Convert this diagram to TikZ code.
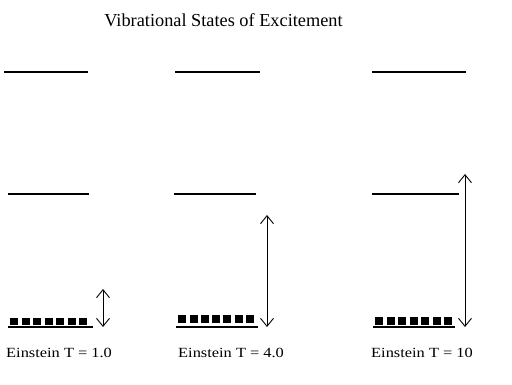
\documentclass[tikz,border=0pt]{standalone}
\usepackage{fontspec}
\setmainfont{Liberation Serif}
\usetikzlibrary{arrows.meta}
\begin{document}
\begin{tikzpicture}[x=1pt,y=-1pt,
  level/.style={line width=1.1pt},
  quantum/.style={fill=black,draw=none,minimum width=8pt,minimum height=7.5pt,inner sep=0pt,anchor=north west},
  gap/.style={line width=0.9pt,{Straight Barb[length=8pt,width=13pt]}-{Straight Barb[length=8pt,width=13pt]}},
  lbl/.style={font=\fontsize{14pt}{16pt}\selectfont,anchor=base west,inner sep=0pt,xscale=1.17},
  ttl/.style={font=\fontsize{18.3pt}{20pt}\selectfont,anchor=base,inner sep=0pt}]
\useasboundingbox (0,0) rectangle (512,384);
\node[ttl] (title) at (223.5,26) {Vibrational States of Excitement};
% column 1
\coordinate (a1) at (4,72);  \coordinate (a2) at (88,72);
\coordinate (b1) at (8,194); \coordinate (b2) at (89,194);
\coordinate (c1) at (8,327); \coordinate (c2) at (93,327);
\draw[level] (a1) -- (a2);
\draw[level] (b1) -- (b2);
\draw[level] (c1) -- (c2);
\foreach \i in {0,...,6} \node[quantum] (qa\i) at (10+11.5*\i,317.5) {};
\coordinate (ga) at (103,327); \coordinate (ha) at (103,289);
\draw[gap] (ga) -- (ha);
\node[lbl] (la) at (6,357) {Einstein T = 1.0};
% column 2
\coordinate (d1) at (175,72);  \coordinate (d2) at (260,72);
\coordinate (e1) at (174,194); \coordinate (e2) at (256,194);
\coordinate (f1) at (176,327); \coordinate (f2) at (258,327);
\draw[level] (d1) -- (d2);
\draw[level] (e1) -- (e2);
\draw[level] (f1) -- (f2);
\foreach \i in {0,...,6} \node[quantum] (qb\i) at (178+11.3*\i,315) {};
\coordinate (gb) at (267,327); \coordinate (hb) at (267,215);
\draw[gap] (gb) -- (hb);
\node[lbl] (lb) at (178,357) {Einstein T = 4.0};
% column 3
\coordinate (k1) at (372,72);  \coordinate (k2) at (466,72);
\coordinate (m1) at (372,194); \coordinate (m2) at (459,194);
\coordinate (n1) at (373,327); \coordinate (n2) at (455,327);
\draw[level] (k1) -- (k2);
\draw[level] (m1) -- (m2);
\draw[level] (n1) -- (n2);
\foreach \i in {0,...,6} \node[quantum] (qc\i) at (375+11.5*\i,317) {};
\coordinate (gc) at (465,327); \coordinate (hc) at (465,174);
\draw[gap] (gc) -- (hc);
\node[lbl] (lc) at (371,357) {Einstein T = 10};
\end{tikzpicture}
\end{document}
